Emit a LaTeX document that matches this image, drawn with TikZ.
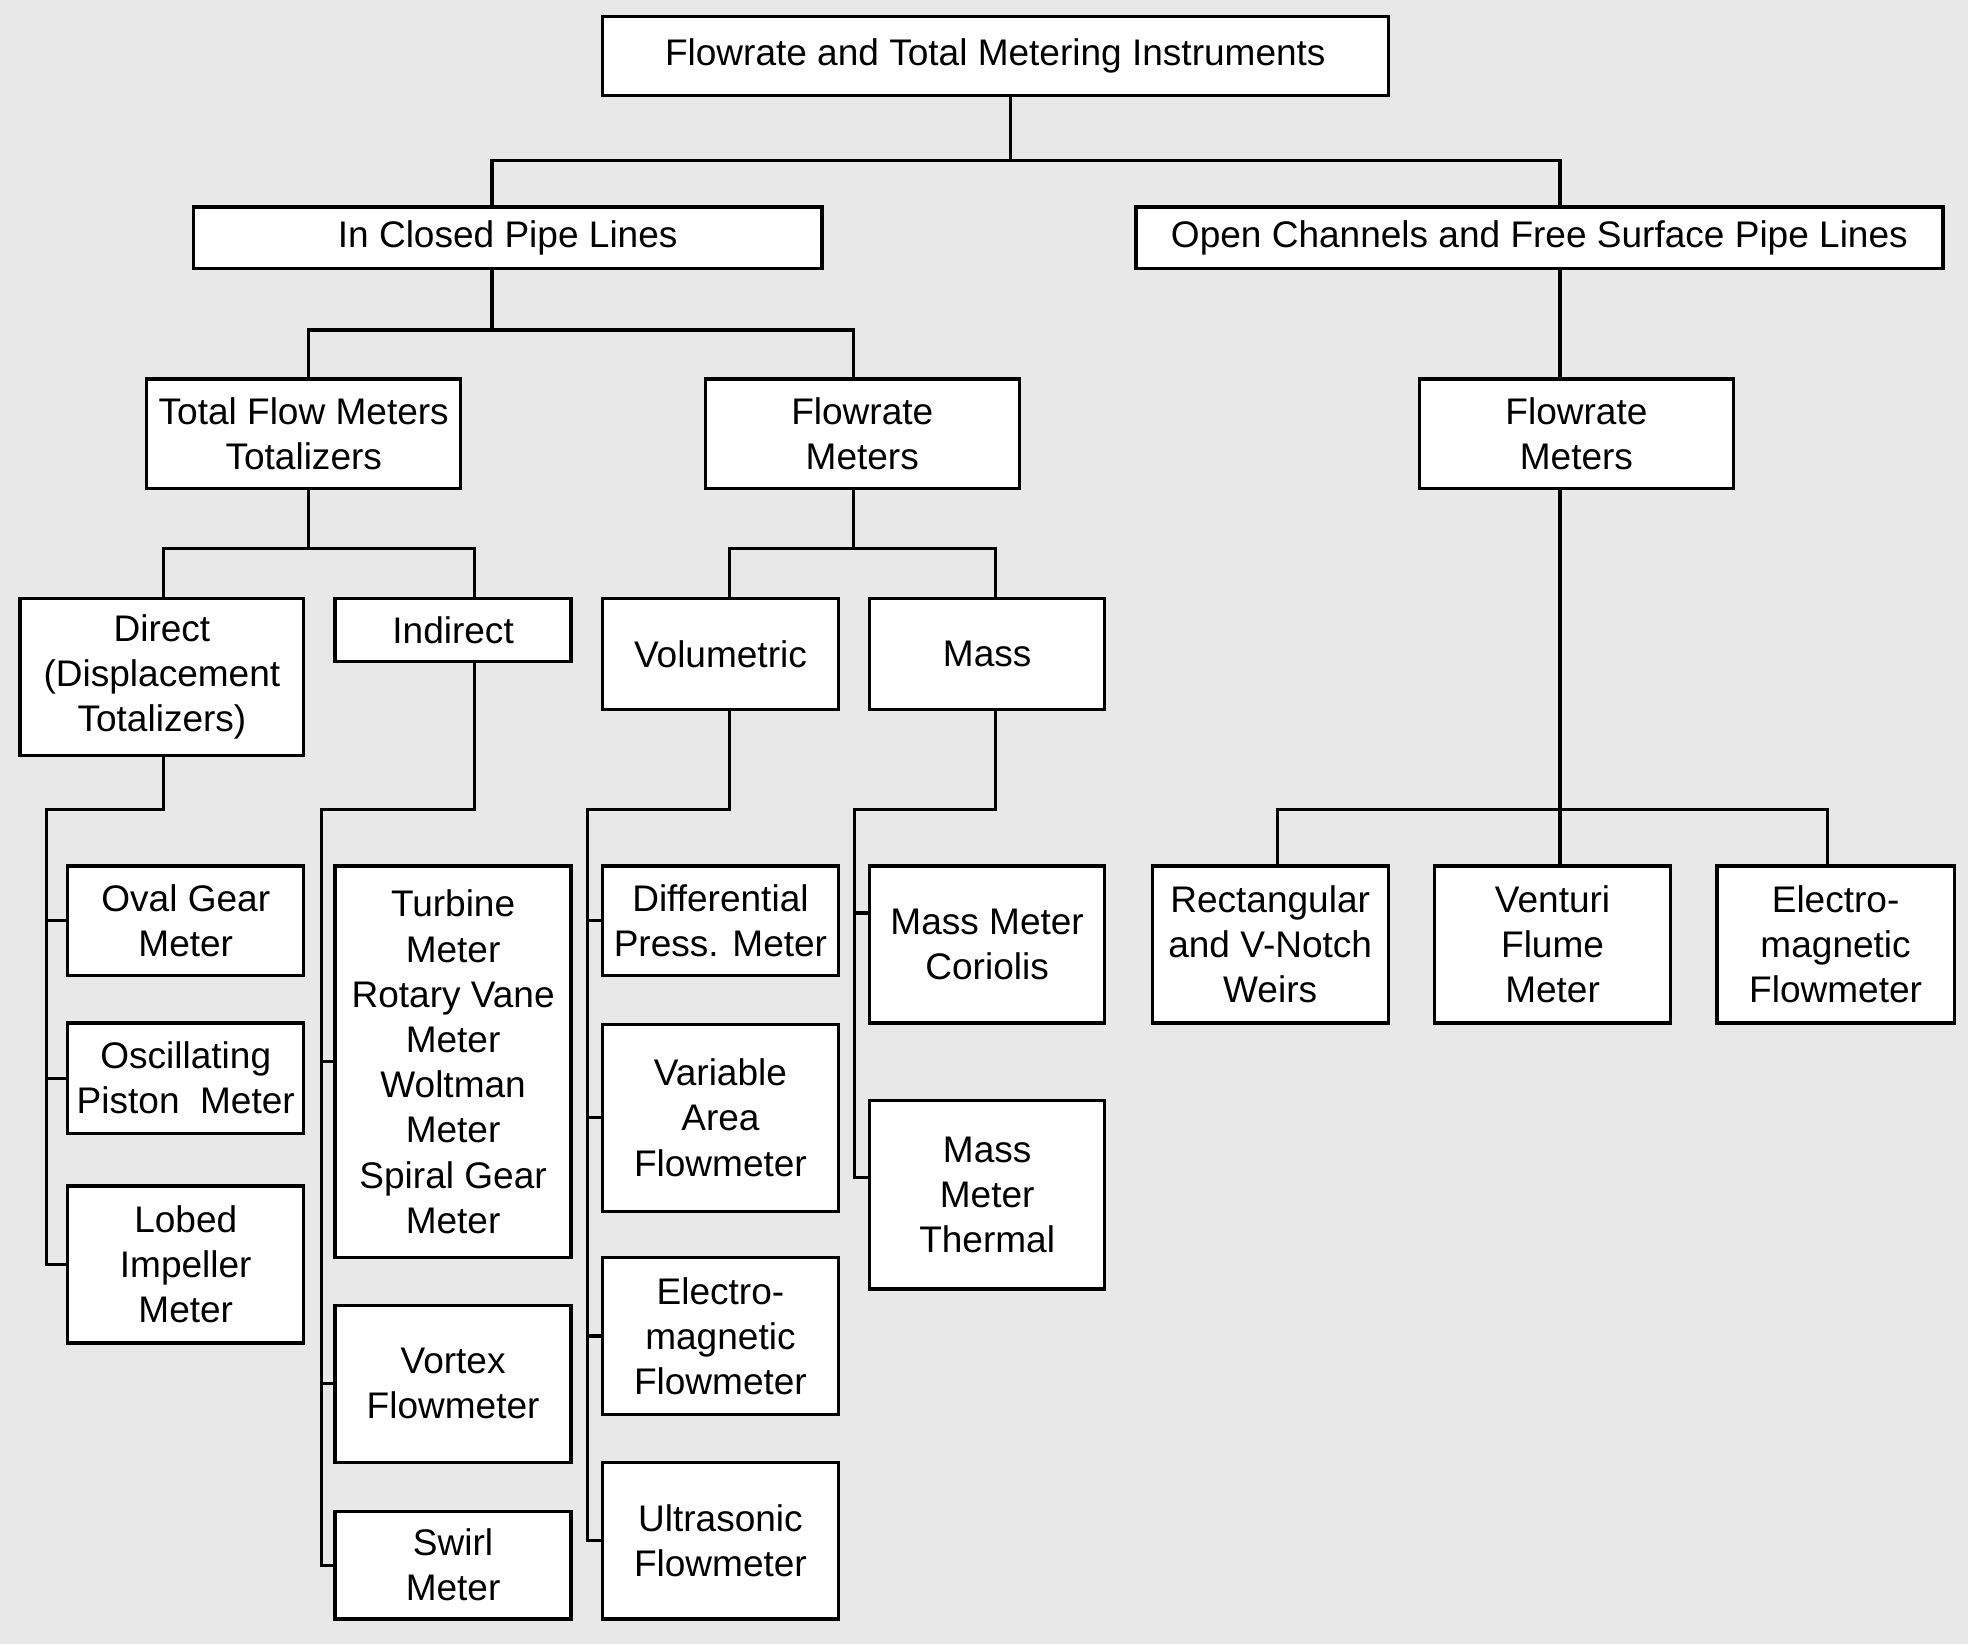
\documentclass[tikz,border=0pt]{standalone}
\usepackage{fontspec}
\setmainfont{Liberation Sans}
\begin{document}
\begin{tikzpicture}[x=1pt,y=-1pt,
  box/.style={draw,line width=2.6pt,fill=white,align=center,inner sep=0pt,font=\fontsize{29.5}{36}\selectfont},
  ln/.style={line width=2.6pt}]
\fill[gray!18] (0,0) rectangle (1568,1310);
\useasboundingbox (0,0) rectangle (1568,1310);
\def\B(#1,#2,#3,#4,#5,#6){\node[box,minimum width=#4,minimum height=#5] (#1) at (#2,#3) {#6};}
\B(top,793,44.5,626,63,{Flowrate and Total Metering Instruments})
\B(closed,404.5,189.5,501,49,{In Closed Pipe Lines})
\B(open,1226.5,189.5,643,49,{Open Channels and Free Surface Pipe Lines})
\B(total,242,345.5,250,87,{Total Flow Meters\\Totalizers})
\B(flowA,687,345.5,250,87,{Flowrate\\Meters})
\B(flowB,1256,345.5,250,87,{Flowrate\\Meters})
\B(direct,129,539.5,226,125,{Direct\\(Displacement\\Totalizers)})
\B(indirect,361,502,188,50,{Indirect})
\B(vol,574,521,188,88,{Volumetric})
\B(mass,786.5,521,187,88,{Mass})
\B(oval,148,733.5,188,87,{Oval Gear\\Meter})
\B(osc,148,859,188,88,{Oscillating\\Piston\ \ Meter})
\B(lobed,148,1007.5,188,125,{Lobed\\Impeller\\Meter})
\B(turb,361,846,188,312,{Turbine\\Meter\\Rotary Vane\\Meter\\Woltman\\Meter\\Spiral Gear\\Meter})
\B(vortex,361,1102.5,188,125,{Vortex\\Flowmeter})
\B(swirl,361,1247,188,86,{Swirl\\Meter})
\B(diff,574,733.5,188,87,{Differential\\Press. Meter})
\B(var,574,890.5,188,149,{Variable\\Area\\Flowmeter})
\B(em,574,1064.5,188,125,{Electro-\\magnetic\\Flowmeter})
\B(ultra,574,1227.5,188,125,{Ultrasonic\\Flowmeter})
\B(cor,786.5,752.5,187,125,{Mass Meter\\Coriolis})
\B(therm,786.5,952,187,150,{Mass\\Meter\\Thermal})
\B(rect,1012,752.5,188,125,{Rectangular\\and V-Notch\\Weirs})
\B(vent,1237,752.5,188,125,{Venturi\\Flume\\Meter})
\B(emf,1462.5,752.5,189,125,{Electro-\\magnetic\\Flowmeter})
\coordinate (j1) at (805,128);
\coordinate (j0) at (392,128);
\coordinate (j2) at (392,263);
\coordinate (j3) at (246,437);
\coordinate (j4) at (680,437);
\coordinate (j5) at (1243,645);
\coordinate (b1) at (37,645);
\coordinate (b2) at (256,645);
\coordinate (b3) at (468,645);
\coordinate (b4) at (681,645);
\draw[ln] (j1 |- top.south) -- (j1);
\draw[ln] (j1) -- (j0) -- (closed.north -| j0);
\draw[ln] (j1) -| (open.north -| j5);
\draw[ln] (j2 |- closed.south) -- (j2) -| (total.north -| j3);
\draw[ln] (j2) -| (flowA.north -| j4);
\draw[ln] (open.south -| j5) -- (flowB.north -| j5);
\draw[ln] (flowB.south -| j5) -- (j5) -| (rect.north -| 1018,0);
\draw[ln] (j5) -| (emf.north -| 1456,0);
\draw[ln] (j5) -- (vent.north -| j5);
\draw[ln] (total.south -| j3) -- (j3) -| (direct.north -| 130,0);
\draw[ln] (j3) -| (indirect.north -| 378,0);
\draw[ln] (flowA.south -| j4) -- (j4) -| (vol.north -| 581,0);
\draw[ln] (j4) -| (mass.north -| 793,0);
\draw[ln] (direct.south -| 130,0) -- (130,645) -- (b1) |- (lobed.west);
\draw[ln] (b1) |- (oval.west); \draw[ln] (b1) |- (osc.west);
\draw[ln] (indirect.south -| 378,0) -- (378,645) -- (b2) |- (swirl.west);
\draw[ln] (b2) |- (turb.west); \draw[ln] (b2) |- (vortex.west);
\draw[ln] (vol.south -| 581,0) -- (581,645) -- (b3) |- (ultra.west);
\draw[ln] (b3) |- (diff.west); \draw[ln] (b3) |- (var.west); \draw[ln] (b3) |- (em.west);
\draw[ln] (mass.south -| 793,0) -- (793,645) -- (b4) |- ([yshift=25pt]cor.west);
\draw[ln] (b4) |- ([yshift=14pt]therm.west);
\end{tikzpicture}
\end{document}
